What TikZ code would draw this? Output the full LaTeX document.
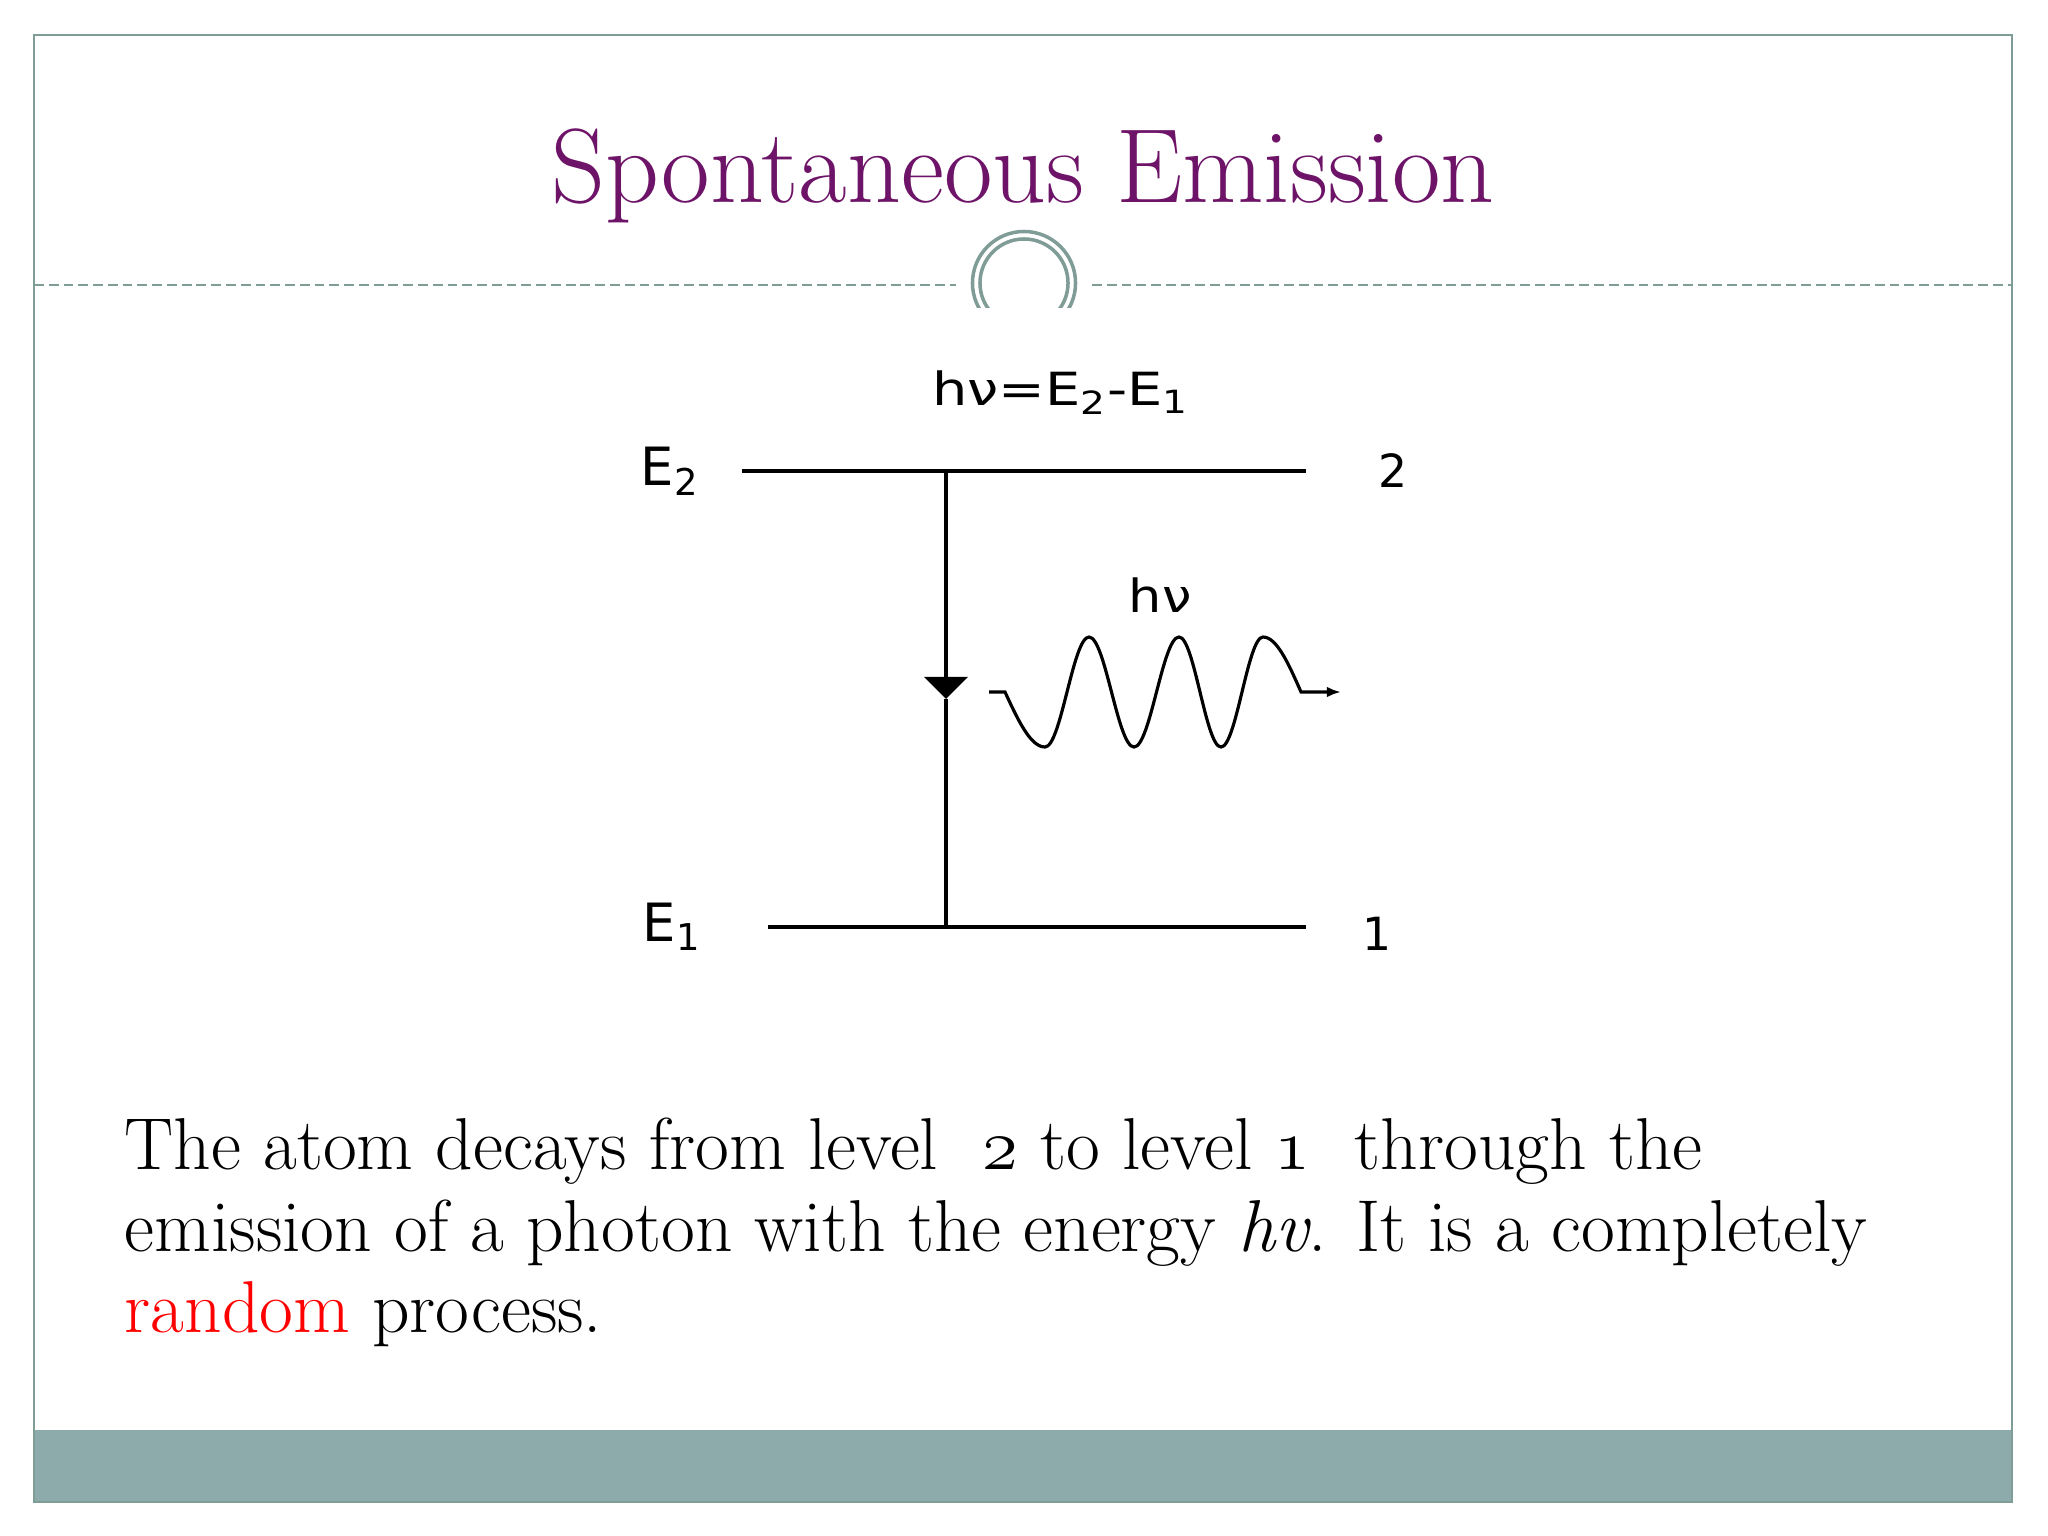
\documentclass[tikz,border=0pt]{standalone}
\usepackage{fontspec}
\newfontfamily\diagfont{DejaVu Sans}
\usetikzlibrary{arrows.meta, positioning}
\definecolor{titlepurple}{RGB}{110,20,104}
\definecolor{rimgray}{RGB}{128,156,151}
\definecolor{barteal}{RGB}{141,171,170}
\newcommand{\osnum}[1]{{\usefont{OML}{cmm}{m}{it}#1}}

\begin{document}
\begin{tikzpicture}[x=0.01cm, y=-0.01cm,
    level/.style={line width=0.9pt},
    lbl/.style={font=\diagfont\fontsize{13}{13}\selectfont, inner sep=0pt},
    bodyline/.style={anchor=base west, inner sep=0pt, font=\fontsize{20.9}{24}\selectfont}]
  \useasboundingbox (0,0) rectangle (2048,1536);
  \fill[white] (0,0) rectangle (2048,1536);
  % =============== slide frame ====================
  \fill[barteal] (34,1430) rectangle (2012,1502);%bottom bar
  \draw[rimgray, line width=0.6pt] (34,35) rectangle (2012,1502);%frame
  \draw[rimgray, line width=0.6pt, dash pattern=on 2.8pt off 1.4pt] (34,285) -- (956,285);%left rule
  \draw[rimgray, line width=0.6pt, dash pattern=on 2.8pt off 1.4pt] (1092,285) -- (2012,285);%right rule
  \begin{scope}
    \clip (950,200) rectangle (1100,307);
    \draw[rimgray, line width=1pt] (1024,283) circle [radius=0.515cm];%outer ring
    \draw[rimgray, line width=1pt] (1024,283) circle [radius=0.44cm];%inner ring
  \end{scope}
  \node (title) [anchor=base, text=titlepurple, font=\fontsize{30}{30}\selectfont, inner sep=0pt] at (1023,202) {Spontaneous Emission};%title
  % =============== energy levels ====================
  \coordinate (E2a) at (742,471);
  \coordinate (E2b) at (1306,471);
  \coordinate (E1a) at (768,927);
  \coordinate (E1b) at (1306,927);
  \draw[level] (E2a) -- (E2b);%upper level
  \draw[level] (E1a) -- (E1b);%lower level
  \node (E2lbl) [lbl, font=\diagfont\fontsize{15}{15}\selectfont, left=0.42cm of E2a] {E\textsubscript{2}};
  \node (E1lbl) [lbl, font=\diagfont\fontsize{15}{15}\selectfont, left=0.66cm of E1a] {E\textsubscript{1}};
  \node (n2) [lbl, right=0.72cm of E2b] {2};
  \node (n1) [lbl, right=0.56cm of E1b, yshift=-0.07cm] {1};
  \node (gap) [lbl, anchor=base, xscale=1.22] at (1061,405) {hν=E\textsubscript{2}-E\textsubscript{1}};%energy gap
  % =============== decay and photon ====================
  \coordinate (trTop) at (946,471);
  \coordinate (trMid) at (946,699);
  \coordinate (trBot) at (946,927);
  \draw[level, -{Triangle[width=0.43cm, length=0.22cm]}] (trTop) -- (trMid);%decay arrow
  \draw[level] (trMid) -- (trBot);
  \node (hv) [lbl, xscale=1.15] at (1160,595) {hν};
  \coordinate (ph0) at (989,692);
  \coordinate (ph1) at (1341,692);
  \draw[level, -{Latex[length=4pt, width=3pt]}] (ph0) -- ++(16,0)
    sin ++(40,55) cos ++(22,-55) sin ++(22,-55)
    cos ++(22.5,55) sin ++(22.5,55) cos ++(22.5,-55) sin ++(22.5,-55)
    cos ++(21,55) sin ++(21,55) cos ++(21,-55) sin ++(21,-55)
    cos ++(38,55) -- (ph1);%photon
  % =============== caption ====================
  \node (line1) [bodyline] at (124,1169) {The atom decays from level\ \ \osnum{2} to level \osnum{1}\ \ through the};
  \node (line2) [bodyline] at (124,1251) {emission of a photon with the energy \textit{hv}. It is a completely};
  \node (line3) [bodyline] at (124,1332) {\textcolor{red}{random} process.};
\end{tikzpicture}
\end{document}
